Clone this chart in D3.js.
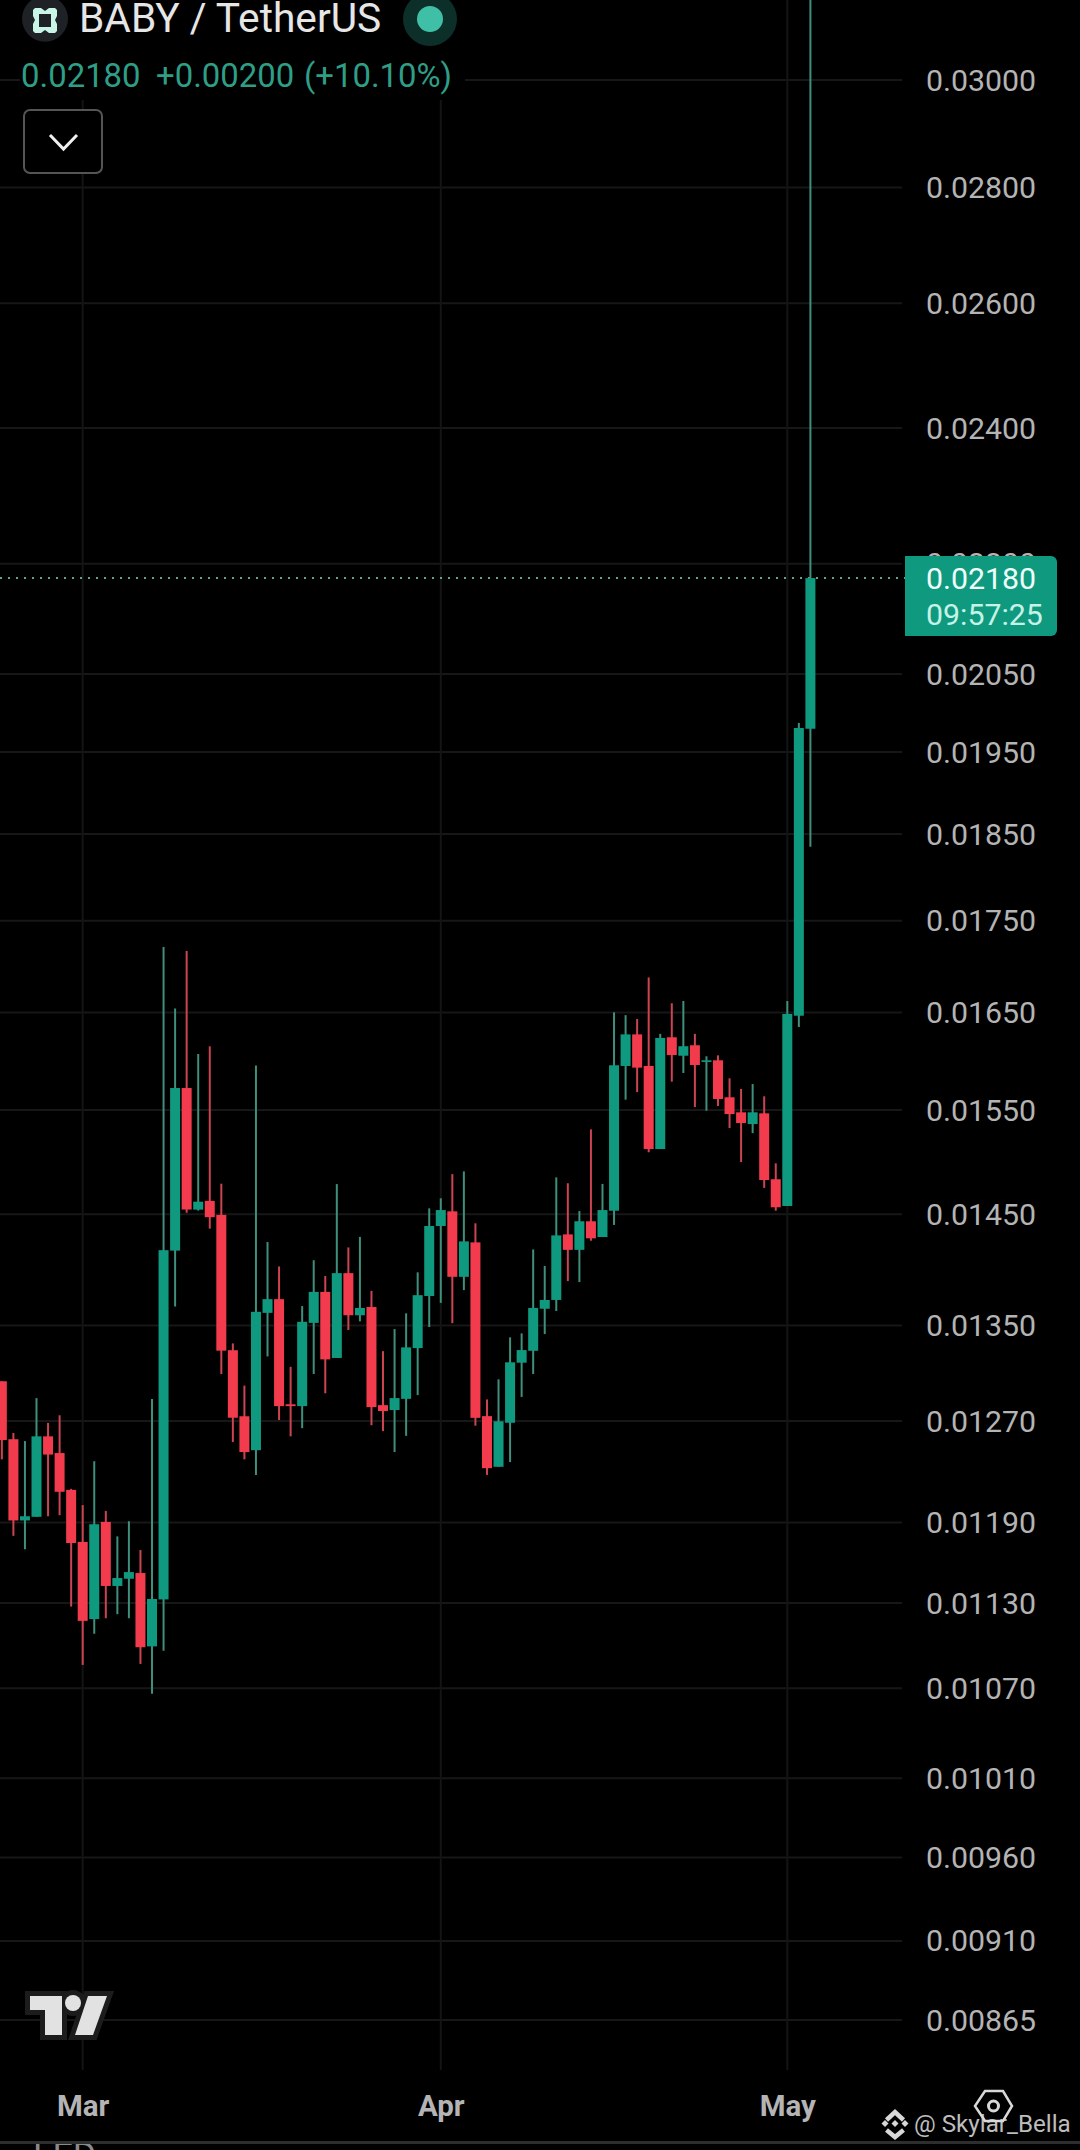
<!DOCTYPE html>
<html>
<head>
<meta charset="utf-8">
<script src="https://cdnjs.cloudflare.com/ajax/libs/d3/7.8.5/d3.min.js"></script>
<style>
html, body { margin: 0; background: #000; overflow: hidden; }
svg { display: block; }
text { font-family: Roboto, sans-serif; }
</style>
</head>
<body>
<div id="vis"></div>
<script>
let W = 1080;
let H = 2150;

// Daily candles, first one is 22 Feb 2025
let firstDay = new Date(Date.UTC(2025, 1, 22));
let opens = [
	.013027, .012552, .011915, .011943, .012575, .012441, .012151, .011752, .011185, .011904,
	.011425, .011478, .011520, .010991, .011327, .014165, .015721, .014542, .014624, .014493,
	.013289, .012738, .012464, .013611, .013731, .012836, .012821, .013524, .013795, .013223,
	.013962, .013590, .013662, .012829, .012789, .012881, .013307, .013759, .014390, .014526,
	.013929, .014240, .012739, .012332, .012685, .013183, .013284, .013647, .013724, .014313,
	.014172, .014434, .014289, .014532, .015945, .016271, .015945, .015118, .016241, .016050,
	.016158, .015986, .016003, .015628, .015478, .015362, .015468, .014828, .014576, .016467,
	.019793
];
let closes = [
	.012545, .011915, .011947, .012575, .012429, .012136, .011744, .011172, .011886, .011425,
	.011483, .011527, .010985, .011330, .014169, .015721, .014543, .014616, .014472, .013285,
	.012726, .012449, .013620, .013731, .012821, .012821, .013533, .013795, .013211, .013962,
	.013590, .013654, .012813, .012781, .012887, .013313, .013766, .014390, .014538, .013929,
	.014249, .012725, .012321, .012697, .013186, .013290, .013654, .013724, .014304, .014172,
	.014434, .014277, .014538, .015952, .016271, .015928, .015118, .016234, .016057, .016148,
	.015955, .016003, .015611, .015461, .015372, .015478, .014821, .014564, .016486, .019802,
	.021800
];
let highs = [
	.013027, .012602, .012537, .012887, .012684, .012746, .012159, .012033, .012376, .011988,
	.011794, .011909, .011691, .012879, .017209, .016542, .017165, .016068, .016147, .014786,
	.013347, .012991, .015950, .014243, .014022, .013148, .013670, .014078, .013936, .014782,
	.014194, .014290, .013804, .013281, .013470, .013607, .013969, .014554, .014648, .014877,
	.014903, .014415, .012876, .013043, .013399, .013433, .014176, .014026, .014846, .014790,
	.014529, .015310, .014784, .016503, .016473, .016432, .016876, .016277, .016599, .016623,
	.016277, .016044, .016054, .015819, .015711, .015761, .015638, .014980, .016623, .019866,
	.032500
];
let lows = [
	.012391, .011798, .011697, .011943, .011947, .011955, .011275, .010861, .011080, .011191,
	.011220, .011191, .010868, .010663, .010961, .013666, .014513, .014533, .014366, .013088,
	.012529, .012391, .012267, .013236, .012707, .012575, .012641, .013088, .012927, .013223,
	.013462, .013537, .012665, .012617, .012449, .012579, .012912, .013488, .013698, .013521,
	.013811, .012661, .012268, .012332, .012369, .012897, .013088, .013427, .013627, .013891,
	.013882, .014255, .014289, .014400, .015604, .015680, .015087, .015118, .015785, .015873,
	.015531, .015494, .015541, .015323, .014993, .015273, .014746, .014532, .014576, .016349,
	.018352
];

// Price axis labels
let priceTicks = [
	.03, .028, .026, .024, .022, .0205, .0195, .0185, .0175, .0165, .0155,
	.0145, .0135, .0127, .0119, .0113, .0107, .0101, .0096, .0091, .00865
];
let monthTicks = [new Date(Date.UTC(2025, 2, 1)), new Date(Date.UTC(2025, 3, 1)), new Date(Date.UTC(2025, 4, 1))];

let lastPrice = .0218;
let title = 'BABY / TetherUS';
let legendParts = ['0.02180', '+0.00200', '(+10.10%)'];
let countdown = '09:57:25';
let watermark = '@ Skylar_Bella';

let candles = opens.map((d, i) => ({
	day: d3.utcDay.offset(firstDay, i),
	open: d,
	close: closes[i],
	high: highs[i],
	low: lows[i]
}));

let GREEN = '#0f9a80';
let RED = '#f23b4c';
let LABEL = '#b4b4b4';

let svg = d3.select('#vis').append('svg').attr('width', W).attr('height', H);
svg.append('rect').attr('width', W).attr('height', H).attr('fill', '#000');

let xScale = d3.scaleUtc().domain([monthTicks[0], monthTicks[2]]).range([82.7, 787.3]);
let yScale = d3.scaleLog().domain([.00865, .03]).range([2020, 80]);

// Grid
svg.append('g').selectAll('line').data(priceTicks).enter().append('line')
		.attr('x1', 0).attr('x2', 902)
		.attr('y1', d => yScale(d)).attr('y2', d => yScale(d))
		.attr('stroke', '#171717').attr('stroke-width', 2);
svg.append('g').selectAll('line').data(monthTicks).enter().append('line')
		.attr('x1', d => xScale(d)).attr('x2', d => xScale(d))
		.attr('y1', 0).attr('y2', 2070)
		.attr('stroke', '#141414').attr('stroke-width', 2);

// Axes
let priceAxis = svg.append('g').attr('transform', 'translate(926,0.4)')
		.call(d3.axisRight(yScale).tickValues(priceTicks).tickFormat(d3.format('.5f')).tickSize(0).tickPadding(0));
priceAxis.select('.domain').remove();
priceAxis.selectAll('text').attr('fill', LABEL).attr('font-size', 30.3).attr('font-family', 'Roboto');

let timeAxis = svg.append('g').attr('transform', 'translate(0,2116)')
		.call(d3.axisBottom(xScale).tickValues(monthTicks).tickFormat(d3.utcFormat('%b')).tickSize(0).tickPadding(0));
timeAxis.select('.domain').remove();
timeAxis.selectAll('text').attr('y', 0).attr('dy', 0).attr('fill', LABEL)
		.attr('font-size', 29.5).attr('font-weight', 700).attr('font-family', 'Roboto');

// Last price line
svg.append('line')
		.attr('x1', 0).attr('x2', 905)
		.attr('y1', yScale(lastPrice)).attr('y2', yScale(lastPrice))
		.attr('stroke', '#5fa596').attr('stroke-width', 2).attr('stroke-dasharray', '2,6');

// Wicks then bodies
svg.append('g').selectAll('line').data(candles).enter().append('line')
		.attr('x1', d => xScale(d.day)).attr('x2', d => xScale(d.day))
		.attr('y1', d => yScale(d.high)).attr('y2', d => yScale(d.low))
		.attr('stroke', d => d.close >= d.open ? '#3f8f7c' : '#cc4452')
		.attr('stroke-width', 2);
svg.append('g').selectAll('rect').data(candles).enter().append('rect')
		.attr('x', d => xScale(d.day) - 5)
		.attr('width', 10)
		.attr('y', d => yScale(Math.max(d.open, d.close)))
		.attr('height', d => Math.max(1.5, Math.abs(yScale(d.open) - yScale(d.close))))
		.attr('fill', d => d.close >= d.open ? GREEN : RED);

// Price tag
svg.append('path')
		.attr('d', 'M905,556H1051a6,6 0 0 1 6,6V630a6,6 0 0 1 -6,6H905Z')
		.attr('fill', GREEN);
svg.append('text').attr('x', 926).attr('y', 589).attr('font-size', 30.3)
		.attr('fill', '#effffa').text(d3.format('.5f')(lastPrice));
svg.append('text').attr('x', 926).attr('y', 625).attr('font-size', 30.3)
		.attr('fill', '#c6f3e6').text(countdown);

// Header
svg.append('rect').attr('x', 20).attr('y', 0).attr('width', 445).attr('height', 100).attr('fill', '#000');
svg.append('circle').attr('cx', 45).attr('cy', 18.7).attr('r', 23).attr('fill', '#1e2226');
svg.append('path')
		.attr('d', 'M35,8h6l4,3l4,-3h6l2,2v6l-2,4l2,4v7l-2,2h-6l-4,-3l-4,3h-6l-2,-2v-7l2,-4l-2,-4v-6Z' +
			'M39,14v13h12v-13Z')
		.attr('fill', '#c8f5e6').attr('fill-rule', 'evenodd');
svg.append('text').attr('x', 79).attr('y', 32).attr('font-size', 40.7)
		.attr('fill', '#e6e6e6').text(title);
svg.append('circle').attr('cx', 430).attr('cy', 19).attr('r', 27).attr('fill', '#0c2f2a');
svg.append('circle').attr('cx', 430).attr('cy', 19).attr('r', 13).attr('fill', '#3fc0a6');

let legendX = [21, 156, 304];
svg.append('g').selectAll('text').data(legendParts).enter().append('text')
		.attr('x', (d, i) => legendX[i]).attr('y', 87).attr('font-size', 32.9)
		.attr('fill', '#2f9e86').text(d => d);

svg.append('rect').attr('x', 24).attr('y', 110).attr('width', 78).attr('height', 63).attr('rx', 6)
		.attr('fill', '#000').attr('stroke', '#555').attr('stroke-width', 2);
svg.append('path').attr('d', 'M50,135L63.5,149L77,135')
		.attr('fill', 'none').attr('stroke', '#f0f0f0').attr('stroke-width', 3);

// TradingView mark
let logoPath = 'M30,1996H62V2035H45V2010H30Z M88,1996H107L93,2035H75Z';
svg.append('path').attr('d', logoPath)
		.attr('fill', '#1c1c1c').attr('stroke', '#1c1c1c').attr('stroke-width', 10);
svg.append('circle').attr('cx', 73).attr('cy', 2003).attr('r', 8)
		.attr('fill', '#e2e2e2').attr('stroke', '#1c1c1c').attr('stroke-width', 10).attr('paint-order', 'stroke');
svg.append('path').attr('d', logoPath).attr('fill', '#e2e2e2');

// Watermark and settings icon
svg.append('path').attr('d', 'M886.5,2120L895,2112L903.5,2120 M886.5,2130L895,2137L903.5,2130')
		.attr('fill', 'none').attr('stroke', '#d8d8d8').attr('stroke-width', 4.5);
svg.append('g').selectAll('path').data([885, 895, 905]).enter().append('path')
		.attr('d', d => `M${d},2120l3.5,3.5l-3.5,3.5l-3.5,-3.5Z`)
		.attr('fill', '#d8d8d8');
svg.append('text').attr('x', 914).attr('y', 2132).attr('font-size', 24.2)
		.attr('font-family', 'Noto Sans').attr('fill', '#bdbdbd').text(watermark);
svg.append('path').attr('d', 'M985,2091H1003L1012,2106L1003,2121H985L975,2106Z')
		.attr('fill', 'none').attr('stroke', '#d8d8d8').attr('stroke-width', 2.5);
svg.append('circle').attr('cx', 993.5).attr('cy', 2106).attr('r', 5)
		.attr('fill', 'none').attr('stroke', '#d8d8d8').attr('stroke-width', 3);

// Bottom divider, the next panel is cut off under it
svg.append('text').attr('x', 33).attr('y', 2168).attr('font-size', 36)
		.attr('fill', '#8a8a8a').text('LED');
svg.append('rect').attr('x', 0).attr('y', 2141).attr('width', W).attr('height', 3).attr('fill', '#2e2e2e');
</script>
</body>
</html>
